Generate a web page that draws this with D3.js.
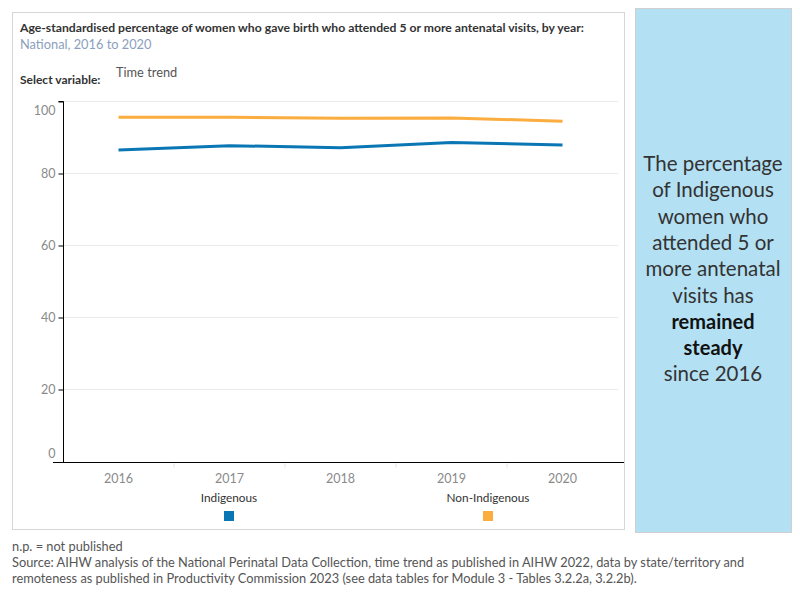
<!DOCTYPE html>
<html>
<head>
<meta charset="utf-8">
<script src="https://cdn.jsdelivr.net/npm/d3@7"></script>
<style>
  body { margin: 0; background: #fff; font-family: Lato, "Open Sans", sans-serif; }
</style>
</head>
<body>
<div id="chart"></div>
<script>
// values
const years = ["2016", "2017", "2018", "2019", "2020"];
const indigenous = [86.4, 87.6, 87.0, 88.5, 87.8];
const nonIndigenous = [95.5, 95.5, 95.2, 95.3, 94.4];
const yTicks = [0, 20, 40, 60, 80, 100];
const seriesNames = ["Indigenous", "Non-Indigenous"];
const seriesColors = ["#0a77b4", "#fbad3f"];

const width = 800, height = 600;
const svg = d3.select("#chart").append("svg")
    .attr("width", width).attr("height", height);

// chart panel frame
svg.append("rect")
    .attr("x", 12.5).attr("y", 12.5).attr("width", 612).attr("height", 517)
    .attr("fill", "#fff").attr("stroke", "#d6d6d6");

// right info panel
svg.append("rect")
    .attr("x", 635.5).attr("y", 8.5).attr("width", 156).attr("height", 524)
    .attr("fill", "#b3e1f3").attr("stroke", "#d0d0d0");

svg.append("text").attr("x", 20).attr("y", 32)
    .attr("font-size", 12.2).attr("font-weight", "bold").attr("fill", "#333")
    .text("Age-standardised percentage of women who gave birth who attended 5 or more antenatal visits, by year:");
svg.append("text").attr("x", 20).attr("y", 49)
    .attr("font-size", 12.8).attr("fill", "#8aa0bd")
    .text("National, 2016 to 2020");
svg.append("text").attr("x", 20).attr("y", 84)
    .attr("font-size", 12).attr("font-weight", "bold").attr("fill", "#333")
    .text("Select variable:");
svg.append("text").attr("x", 116).attr("y", 77)
    .attr("font-size", 12.8).attr("fill", "#555")
    .text("Time trend");

const plot = { left: 63, right: 618, top: 101, bottom: 461 };

const x = d3.scaleBand().domain(years).range([plot.left, plot.right]).padding(0);
const y = d3.scaleLinear().domain([0, 100]).range([plot.bottom, plot.top]);

// gridlines
svg.append("g").selectAll("line")
    .data(yTicks.filter(d => d > 0))
    .join("line")
    .attr("x1", plot.left).attr("x2", plot.right)
    .attr("y1", d => y(d) + 0.5).attr("y2", d => y(d) + 0.5)
    .attr("stroke", "#ececec");

// y axis
const yAxis = svg.append("g")
    .attr("transform", `translate(${plot.left + 0.5},0.5)`)
    .call(d3.axisLeft(y).tickValues(yTicks).tickSize(5).tickPadding(3));
yAxis.select(".domain").attr("stroke", "#000").attr("d", `M-5,${plot.top}H0V${plot.bottom + 1}`);
yAxis.selectAll(".tick line").attr("stroke", "#000");
yAxis.selectAll(".tick text")
    .attr("fill", "#8a8a8a").attr("font-size", 12.5).attr("font-family", "Lato, sans-serif")
    .attr("dy", d => d === 100 ? "1.05em" : d === 0 ? "-0.35em" : "0.32em");
yAxis.selectAll(".tick").filter(d => d === 0).select("line").remove();

// x axis
const xAxis = svg.append("g")
    .attr("transform", `translate(0,${plot.bottom + 1.5})`)
    .call(d3.axisBottom(x).tickSize(0).tickPadding(12));
xAxis.select(".domain").attr("stroke", "#000").attr("d", `M${plot.left - 10},0H${plot.right + 6}`);
xAxis.selectAll(".tick text")
    .attr("fill", "#8a8a8a").attr("font-size", 12.5).attr("font-family", "Lato, sans-serif");
// band separators
xAxis.append("g").selectAll("line")
    .data(years.slice(1))
    .join("line")
    .attr("x1", d => x(d)).attr("x2", d => x(d))
    .attr("y1", 1).attr("y2", 5)
    .attr("stroke", "#e2e2e2");

// lines
const series = [indigenous, nonIndigenous];
const line = d3.line()
    .x((d, i) => x(years[i]) + x.bandwidth() / 2)
    .y(d => y(d));
svg.append("g").selectAll("path")
    .data(series)
    .join("path")
    .attr("d", line)
    .attr("fill", "none")
    .attr("stroke", (d, i) => seriesColors[i])
    .attr("stroke-width", 3)
    .attr("stroke-linejoin", "round");

// legend
const legendX = [229, 488];
const legend = svg.append("g").selectAll("g")
    .data(seriesNames)
    .join("g")
    .attr("transform", (d, i) => `translate(${legendX[i]},0)`);
legend.append("text")
    .attr("y", 502).attr("text-anchor", "middle")
    .attr("font-size", 11.8).attr("fill", "#333")
    .text(d => d);
legend.append("rect")
    .attr("x", -5).attr("y", 511).attr("width", 10).attr("height", 10)
    .attr("fill", (d, i) => seriesColors[i]);

// right panel text
const panelLines = [
    ["The percentage", false], ["of Indigenous", false], ["women who", false],
    ["attended 5 or", false], ["more antenatal", false], ["visits has", false],
    ["remained", true], ["steady", true], ["since 2016", false]
];
svg.append("g").selectAll("text")
    .data(panelLines)
    .join("text")
    .attr("x", 713).attr("y", (d, i) => 171 + i * 26.3)
    .attr("text-anchor", "middle")
    .attr("font-size", d => d[1] ? 20 : 20.5)
    .attr("font-weight", d => d[1] ? "bold" : "normal")
    .attr("fill", d => d[1] ? "#111" : "#333")
    .text(d => d[0]);

// footer
const footer = [
    "n.p. = not published",
    "Source: AIHW analysis of the National Perinatal Data Collection, time trend as published in AIHW 2022, data by state/territory and",
    "remoteness as published in Productivity Commission 2023 (see data tables for Module 3 - Tables 3.2.2a, 3.2.2b)."
];
svg.append("g").selectAll("text")
    .data(footer)
    .join("text")
    .attr("x", 12).attr("y", (d, i) => 551 + i * 16)
    .attr("font-size", 12.8).attr("fill", "#555")
    .text(d => d);
</script>
</body>
</html>
